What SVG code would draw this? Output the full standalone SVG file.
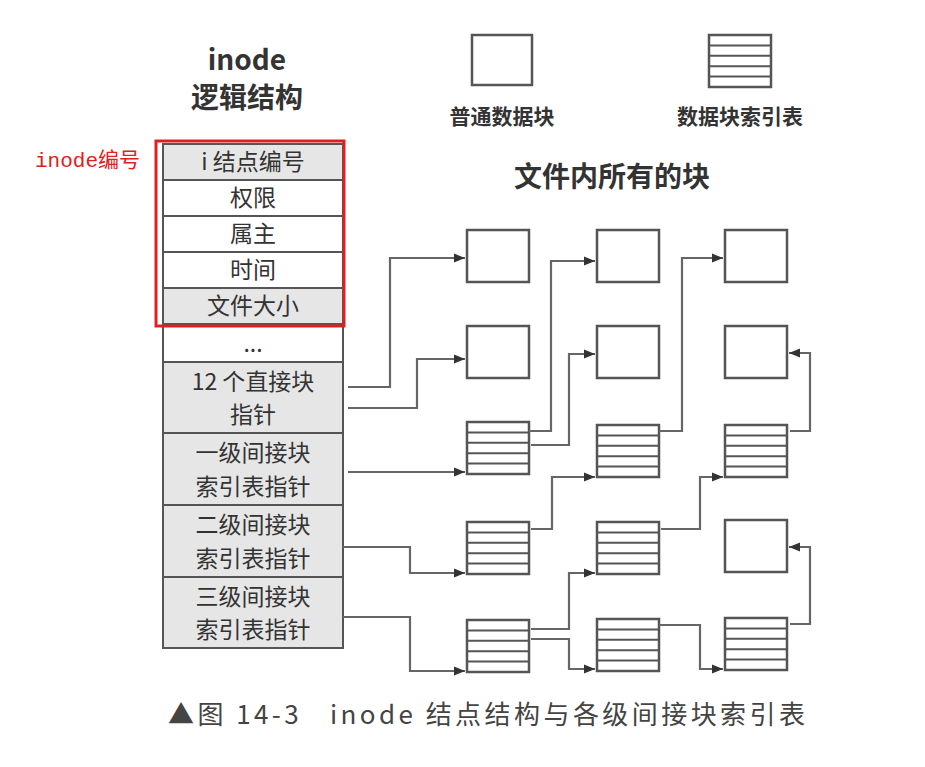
<svg xmlns="http://www.w3.org/2000/svg" width="925" height="767" viewBox="0 0 925 767">
<defs>
<style>
.b{fill:#fff;stroke:#555;stroke-width:2.5}
.g{fill:#e6e6e6;stroke:#555;stroke-width:2}
.w{fill:#fff;stroke:#555;stroke-width:2}
.l{stroke:#555;stroke-width:2}
.c{fill:none;stroke:#666;stroke-width:2.2}
.t{font-family:"Noto Sans CJK SC",sans-serif;fill:#333;text-anchor:middle}
</style>
<marker id="a" viewBox="0 0 10 10" refX="10" refY="5" markerWidth="5" markerHeight="5" orient="auto"><path d="M0,1L10,5L0,9z" fill="#333"/></marker>
<g id="tbl"><rect class="b" x="0" y="0" width="62" height="52"/><path class="l" d="M0,10.4H62M0,20.8H62M0,31.2H62M0,41.6H62"/></g>
</defs>
<rect width="925" height="767" fill="#fff"/>
<g id="legend">
<rect class="b" x="472" y="35" width="60" height="50"/>
<use href="#tbl" x="709" y="35"/>
<text class="t" x="502" y="124" font-size="21" font-weight="bold">普通数据块</text>
<text class="t" x="740" y="124" font-size="21" font-weight="bold">数据块索引表</text>
<text class="t" x="612" y="187" font-size="28" font-weight="bold">文件内所有的块</text>
<text class="t" x="247" y="70" font-size="28" font-weight="bold">inode</text>
<text class="t" x="247" y="108" font-size="28" font-weight="bold">逻辑结构</text>
</g>
<g id="inode" font-size="23">
<rect class="g" x="163" y="144" width="180" height="36"/>
<rect class="w" x="163" y="180" width="180" height="36"/>
<rect class="w" x="163" y="216" width="180" height="36"/>
<rect class="w" x="163" y="252" width="180" height="36"/>
<rect class="g" x="163" y="288" width="180" height="36"/>
<rect class="w" x="163" y="324" width="180" height="38"/>
<rect class="g" x="163" y="362" width="180" height="71"/>
<rect class="g" x="163" y="433" width="180" height="72"/>
<rect class="g" x="163" y="505" width="180" height="72"/>
<rect class="g" x="163" y="577" width="180" height="71"/>
<text class="t" x="253" y="170">i 结点编号</text>
<text class="t" x="253" y="206">权限</text>
<text class="t" x="253" y="242">属主</text>
<text class="t" x="253" y="278">时间</text>
<text class="t" x="253" y="314">文件大小</text>
<text class="t" x="253" y="352">...</text>
<text class="t" x="253" y="390">12 个直接块</text>
<text class="t" x="253" y="423">指针</text>
<text class="t" x="253" y="461">一级间接块</text>
<text class="t" x="253" y="495">索引表指针</text>
<text class="t" x="253" y="533">二级间接块</text>
<text class="t" x="253" y="567">索引表指针</text>
<text class="t" x="253" y="605">三级间接块</text>
<text class="t" x="253" y="638">索引表指针</text>
<rect x="156" y="141" width="188" height="185" fill="none" stroke="#e02020" stroke-width="3"/>
<text x="35" y="167" font-family="Liberation Mono,'Noto Sans CJK SC',monospace" font-size="21" fill="#e02020">inode编号</text>
</g>
<g id="blocks">
<rect class="b" x="467" y="230" width="62" height="52"/>
<rect class="b" x="597" y="230" width="62" height="52"/>
<rect class="b" x="725" y="230" width="62" height="52"/>
<rect class="b" x="467" y="326" width="62" height="52"/>
<rect class="b" x="597" y="326" width="62" height="52"/>
<rect class="b" x="725" y="326" width="62" height="52"/>
<use href="#tbl" x="467" y="422"/>
<use href="#tbl" x="597" y="425"/>
<use href="#tbl" x="725" y="425"/>
<use href="#tbl" x="467" y="522"/>
<use href="#tbl" x="597" y="522"/>
<rect class="b" x="725" y="520" width="62" height="52"/>
<use href="#tbl" x="467" y="620"/>
<use href="#tbl" x="597" y="619"/>
<use href="#tbl" x="725" y="618"/>
</g>
<g id="connectors">
<path class="c" marker-end="url(#a)" d="M348,387H390V258H465"/>
<path class="c" marker-end="url(#a)" d="M348,408H417V359H465"/>
<path class="c" marker-end="url(#a)" d="M348,472H465"/>
<path class="c" marker-end="url(#a)" d="M343,547H410V573H465"/>
<path class="c" marker-end="url(#a)" d="M343,617H410V671H465"/>
<path class="c" marker-end="url(#a)" d="M529,431H551V261H595"/>
<path class="c" marker-end="url(#a)" d="M531,445H569V354H595"/>
<path class="c" marker-end="url(#a)" d="M531,529H552V477H595"/>
<path class="c" marker-end="url(#a)" d="M531,629H569V573H595"/>
<path class="c" marker-end="url(#a)" d="M531,639H569V669H595"/>
<path class="c" marker-end="url(#a)" d="M659,431H682V258H723"/>
<path class="c" marker-end="url(#a)" d="M661,529H700V477H723"/>
<path class="c" marker-end="url(#a)" d="M659,625H700V669H723"/>
<path class="c" marker-end="url(#a)" d="M790,431H810V353H789"/>
<path class="c" marker-end="url(#a)" d="M790,624H810V547H789"/>
</g>
<text x="168" y="724" xml:space="preserve" textLength="637" lengthAdjust="spacing" font-family="'Noto Sans CJK SC',sans-serif" font-size="26" fill="#444">▲图 14-3   inode 结点结构与各级间接块索引表</text>
</svg>
